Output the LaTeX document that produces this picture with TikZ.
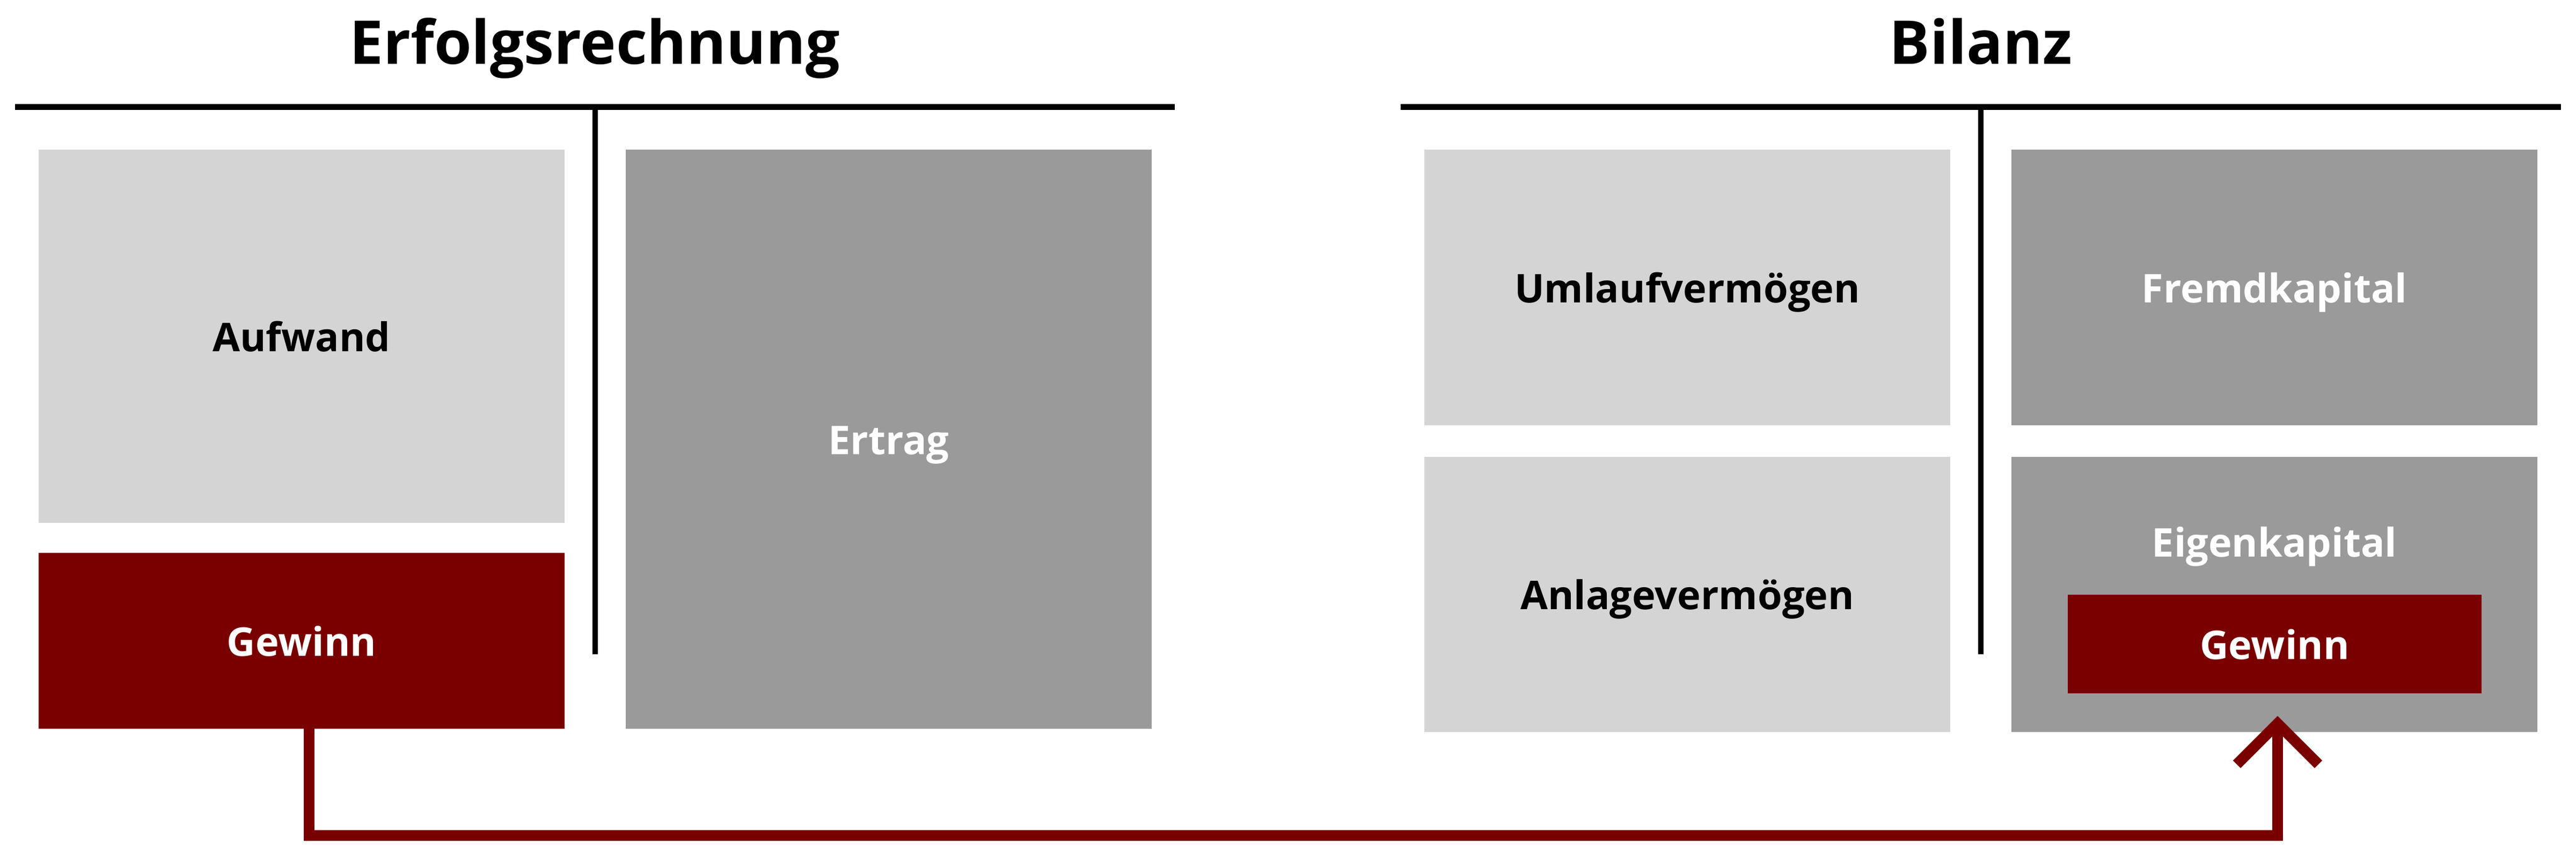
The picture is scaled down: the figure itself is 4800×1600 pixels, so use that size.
\documentclass[tikz,border=0pt]{standalone}
\usepackage{fontspec}
\setmainfont{Open Sans}
\usetikzlibrary{arrows.meta}
\definecolor{lightg}{HTML}{D4D4D4}
\definecolor{darkg}{HTML}{9A9A9A}
\definecolor{wine}{HTML}{7A0000}
\begin{document}
\begin{tikzpicture}[x=0.01cm,y=-0.01cm,
  box/.style={rectangle, inner sep=0pt, outer sep=0pt, minimum width=9.8cm,
    font=\fontsize{21}{25}\selectfont\bfseries, text height=16pt, text depth=0pt},
  lightbox/.style={box, fill=lightg, text=black},
  darkbox/.style={box, fill=darkg, text=white},
  winebox/.style={box, fill=wine, text=white},
  boxlabel/.style={inner sep=0pt, font=\fontsize{21}{25}\selectfont\bfseries, text height=16pt, text depth=0pt},
  titletext/.style={font=\fontsize{32}{38}\selectfont\bfseries, anchor=base, inner sep=0pt},
  hrule/.style={line width=0.11cm, black},
  vrule/.style={line width=0.1cm, black},
  conn/.style={draw=wine, line width=0.2cm, line join=miter,
    -{Straight Barb[length=0.76cm, width=1.52cm]}, shorten >=0.42cm}
]
\useasboundingbox (0,0) rectangle (4800,1600);

% Erfolgsrechnung
\node[titletext] (t1) at (1108.5,120) {Erfolgsrechnung};
\coordinate (h1l) at (28,199.5);
\coordinate (h1r) at (2189,199.5);
\coordinate (v1t) at (1109,199.5);
\coordinate (v1b) at (1109,1220);
\draw[hrule] (h1l) -- (h1r);
\draw[vrule] (v1t) -- (v1b);

\node[lightbox, minimum height=6.96cm] (aufw) at (562,627) {Aufwand};
\node[winebox, minimum height=3.28cm] (gew1) at (562,1195) {Gewinn};
\node[darkbox, minimum height=10.8cm] (ertr) at (1656,819) {Ertrag};

% Bilanz
\node[titletext] (t2) at (3691,120) {Bilanz};
\coordinate (h2l) at (2610,199.5);
\coordinate (h2r) at (4772,199.5);
\coordinate (v2t) at (3691,199.5);
\coordinate (v2b) at (3691,1220);
\draw[hrule] (h2l) -- (h2r);
\draw[vrule] (v2t) -- (v2b);

\node[lightbox, minimum height=5.14cm] (uml) at (3144,536) {Umlaufvermögen};
\node[lightbox, minimum height=5.13cm] (anl) at (3144,1108.5) {Anlagevermögen};
\node[darkbox, minimum height=5.14cm] (fremd) at (4238,536) {Fremdkapital};
\node[darkbox, minimum height=5.13cm] (eigen) at (4238,1108.5) {};
\node[boxlabel, text=white] (eigt) at (4238,1010) {Eigenkapital};
\node[winebox, minimum width=7.71cm, minimum height=1.84cm] (gew2) at (4238.5,1201) {Gewinn};

% connector
\draw[conn] ([xshift=0.135cm]gew1.south) -- ++(0,199) -| ([xshift=0.055cm]gew2.south);
\end{tikzpicture}
\end{document}
